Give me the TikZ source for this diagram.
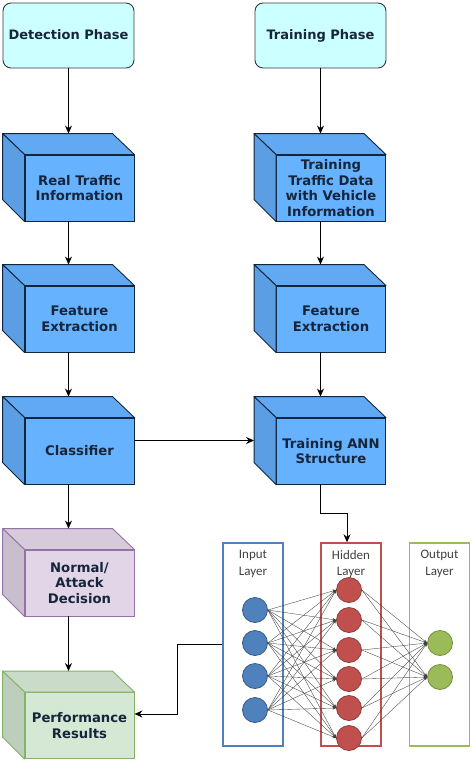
\documentclass[tikz,border=0pt]{standalone}
\usepackage{fontspec}
\setmainfont{DejaVu Sans}
\newfontfamily\nnfont{Carlito}
\usetikzlibrary{arrows.meta,calc}

\definecolor{phase}{HTML}{CCFFFF}
\definecolor{phaseline}{HTML}{36393D}
\definecolor{blu}{HTML}{66B2FF}
\definecolor{bluline}{HTML}{10263E}
\definecolor{pur}{HTML}{E1D5E7}
\definecolor{purline}{HTML}{9673A6}
\definecolor{grn}{HTML}{D5E8D4}
\definecolor{grnline}{HTML}{82B366}
\definecolor{inblue}{HTML}{4F81BD}
\definecolor{hidred}{HTML}{C0504D}
\definecolor{outgreen}{HTML}{9BBB59}
\definecolor{txt}{HTML}{16253A}

\begin{document}
\begin{tikzpicture}[x=1pt,y=-1pt,
    phasebox/.style={draw=phaseline,fill=phase,rounded corners=8pt,line width=0.9pt,
      minimum width=131pt,minimum height=65pt,text height=9.5pt,text depth=2.5pt,
      font=\bfseries\fontsize{13}{15.5}\selectfont,text=txt},
    cube/.style={line width=0.9pt,minimum width=109pt,minimum height=66pt,align=center,
      font=\bfseries\fontsize{13.2}{15.5}\selectfont,text=txt},
    flow/.style={-{Stealth[length=8pt,width=7pt]},line width=0.9pt},
    layerbox/.style={line width=1.4pt,minimum width=60pt,minimum height=203pt},
    layertext/.style={font=\nnfont\fontsize{13}{16.5}\selectfont,text=black!75,align=center},
    neuron/.style={circle,minimum size=25pt,inner sep=0pt,line width=0.8pt},
    link/.style={-{Stealth[length=3.5pt,width=3pt]},line width=0.35pt,black!75}]

  \useasboundingbox (0,0) rectangle (474,761);

  % phases
  \node[phasebox] (detect) at (68.5,35.5) {Detection Phase};
  \node[phasebox] (train)  at (320.5,35.5) {Training Phase};

  % front faces of the cubes
  \begin{scope}[every node/.style={cube,draw=bluline,fill=blu}]
    \node (rti) at (79.5,188) {Real Traffic\\Information};
    \node (fe1) at (79.5,319) {Feature\\Extraction};
    \node (cls) at (79.5,451) {Classifier};
    \node (ttd) at (331,188)  {Training\\Traffic Data\\with Vehicle\\Information};
    \node (fe2) at (331,319)  {Feature\\Extraction};
    \node (ann) at (331,451)  {Training ANN\\Structure};
  \end{scope}
  \node[cube,draw=purline,fill=pur] (dec)  at (79.5,583)   {Normal/\\Attack\\Decision};
  \node[cube,draw=grnline,fill=grn] (perf) at (79.5,725.5) {Performance\\Results};

  % top and side faces
  \foreach \n/\c/\l in {rti/blu/bluline,fe1/blu/bluline,cls/blu/bluline,ttd/blu/bluline,
      fe2/blu/bluline,ann/blu/bluline,dec/pur/purline,perf/grn/grnline}{
    \coordinate (\n-back) at ($(\n.north west)+(-22,-21)$);
    \filldraw[fill=\c!95!black,draw=\l,line width=0.9pt,line join=round]
      (\n.north west) -- (\n-back) -- ($(\n.north east)+(-22,-21)$) -- (\n.north east) -- cycle;
    \filldraw[fill=\c!89!black,draw=\l,line width=0.9pt,line join=round]
      (\n.north west) -- (\n-back) -- ++(0,66) -- (\n.south west) -- cycle;
  }

  % neural network
  \node[layerbox,draw=inblue]   (inbox)  at (253,644.5)   {};
  \node[layerbox,draw=hidred]   (hidbox) at (351,644.5)   {};
  \node[layerbox,draw=outgreen] (outbox) at (439.5,644.5) {};
  \node[layertext] (inlbl)  at (253,564)   {Input\\Layer};
  \node[layertext] (hidlbl) at (351,564)   {Hidden\\Layer};
  \node[layertext] (outlbl) at (439.5,564) {Output\\Layer};

  \foreach \i/\y in {1/610,2/643,3/676,4/710}
    \node[neuron,fill=inblue,draw=inblue!70!black] (i\i) at (255,\y) {};
  \foreach \h/\y in {1/590,2/620,3/650,4/679,5/708,6/738}
    \node[neuron,fill=hidred,draw=hidred!75!black] (h\h) at (349,\y) {};
  \foreach \o/\y in {1/643,2/677}
    \node[neuron,fill=outgreen,draw=outgreen!75!black] (o\o) at (440,\y) {};

  \foreach \i in {1,...,4}
    \foreach \h in {1,...,6}
      \draw[link] (i\i.east) -- (h\h.west);
  \foreach \h in {1,...,6}
    \foreach \o in {1,2}
      \draw[link] (h\h.east) -- (o\o.west);

  % flow
  \draw[flow] (detect) -- (detect.south |- rti-back);
  \draw[flow] (detect.south |- rti.south) -- (detect.south |- fe1-back);
  \draw[flow] (detect.south |- fe1.south) -- (detect.south |- cls-back);
  \draw[flow] (detect.south |- cls.south) -- (detect.south |- dec-back);
  \draw[flow] (detect.south |- dec.south) -- (detect.south |- perf-back);
  \draw[flow] (train) -- (train.south |- ttd-back);
  \draw[flow] (train.south |- ttd.south) -- (train.south |- fe2-back);
  \draw[flow] (train.south |- fe2.south) -- (train.south |- ann-back);
  \draw[flow] ($(cls.east)+(0,-10.5)$) -- ($(ann.west)+(-22,-10.5)$);
  \draw[flow] (train.south |- ann.south) -- ++(0,29) -| ($(hidbox.north)+(-4,0)$);
  \draw[flow] (inbox.west) -- ++(-45,0) |- ($(perf.east)+(0,-11.5)$);

\end{tikzpicture}
\end{document}
